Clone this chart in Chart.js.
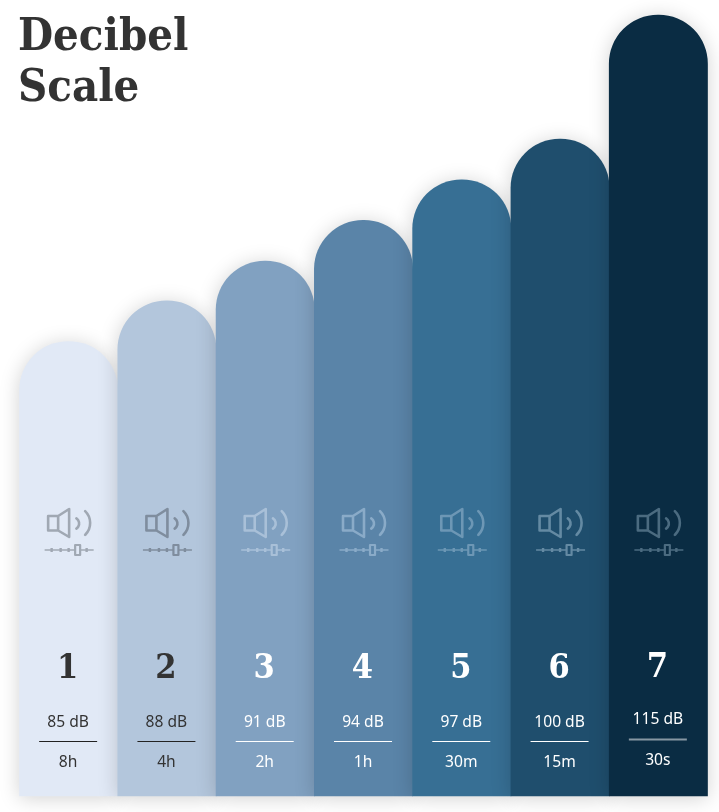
<!DOCTYPE html>
<html>
<head>
<meta charset="utf-8">
<title>Decibel Scale</title>
<script src="https://cdn.jsdelivr.net/npm/chart.js@4/dist/chart.umd.min.js"></script>
<style>
  html, body { margin: 0; padding: 0; background: #fff; }
  #wrap { position: relative; width: 719px; height: 812px; overflow: hidden; }
  canvas { position: absolute; left: 0; top: 0; }
  h1 {
    position: absolute; left: 18px; top: 9px; margin: 0; z-index: 2;
    font: bold 45px/51px "DejaVu Serif Condensed", "DejaVu Serif", serif;
    color: #333;
  }
</style>
</head>
<body>
<div id="wrap">
  <h1>Decibel<br>Scale</h1>
  <canvas id="decibel_chart" width="719" height="812"></canvas>
</div>
<script>
// values
const categories = ['1', '2', '3', '4', '5', '6', '7'];
const barLevels = [58.2, 63.4, 68.5, 73.7, 78.9, 84.1, 100];
const decibels = ['85 dB', '88 dB', '91 dB', '94 dB', '97 dB', '100 dB', '115 dB'];
const durations = ['8h', '4h', '2h', '1h', '30m', '15m', '30s'];

const barColors = ['#e1e9f6', '#b3c6dc', '#81a1c1', '#5a84a8', '#376f94', '#1f4e6d', '#0a2c43'];
const textColors = ['#333333', '#333333', '#ffffff', '#ffffff', '#ffffff', '#ffffff', '#ffffff'];
const ruleColors = ['#222222', '#222222', '#ffffff', '#ffffff', '#ffffff', '#ffffff', '#8797a3'];
const iconColors = ['#a0a8b3', '#7f8d9e', '#a9c0d8', '#8aabc8', '#6d97b5', '#648aa3', '#4b6b80'];

function drawIcon(ctx, cx, color, fill) {
    ctx.save();
    ctx.translate(cx, 0);
    ctx.filter = 'blur(0.3px)';
    ctx.strokeStyle = color;
    ctx.lineWidth = 2.6;
    ctx.lineJoin = 'round';

    // speaker
    ctx.beginPath();
    ctx.rect(-20.5, 516, 10, 14.5);
    ctx.moveTo(-10.5, 516);
    ctx.lineTo(0.5, 509);
    ctx.lineTo(0.5, 537);
    ctx.lineTo(-10.5, 530.5);
    ctx.stroke();

    // sound waves
    ctx.lineCap = 'round';
    ctx.beginPath();
    ctx.arc(4.5, 523.5, 6, -1, 1);
    ctx.stroke();
    ctx.beginPath();
    ctx.arc(5, 523, 16.5, -0.8, 0.8);
    ctx.stroke();

    // slider
    ctx.lineCap = 'butt';
    ctx.lineWidth = 1.7;
    ctx.beginPath();
    ctx.moveTo(-24, 550);
    ctx.lineTo(25, 550);
    ctx.stroke();
    ctx.lineWidth = 2.4;
    ctx.beginPath();
    [-17, -8, 0, 18].forEach((x) => {
        ctx.moveTo(x, 548);
        ctx.lineTo(x, 552);
    });
    ctx.stroke();
    ctx.fillStyle = fill;
    ctx.lineWidth = 2.2;
    ctx.beginPath();
    ctx.rect(6.5, 545, 5, 10);
    ctx.fill();
    ctx.stroke();
    ctx.restore();
}

const barShadow = {
    id: 'barShadow',
    beforeDatasetDraw(chart) {
        const ctx = chart.ctx;
        ctx.save();
        ctx.shadowColor = 'rgba(0, 0, 0, 0.18)';
        ctx.shadowBlur = 20;
        ctx.shadowOffsetX = 0;
        ctx.shadowOffsetY = 2;
    },
    afterDatasetDraw(chart) {
        chart.ctx.restore();
    },
};

const barLabels = {
    id: 'barLabels',
    afterDatasetsDraw(chart) {
        const ctx = chart.ctx;
        const bars = chart.getDatasetMeta(0).data;
        bars.forEach((bar, i) => {
            const last = i === bars.length - 1;
            const shift = last ? -2.5 : 0;
            drawIcon(ctx, bar.x, iconColors[i], barColors[i]);

            ctx.save();
            ctx.textAlign = 'center';
            ctx.textBaseline = 'alphabetic';
            ctx.fillStyle = textColors[i];
            ctx.font = 'bold 34px "DejaVu Serif Condensed", "DejaVu Serif", serif';
            ctx.fillText(categories[i], bar.x - 1, 678 - (last ? 1 : 0));

            ctx.font = '15.6px "Noto Sans", sans-serif';
            ctx.fillText(decibels[i], bar.x - 0.5, 726.5 + shift);
            ctx.fillText(durations[i], bar.x - 0.5, 767 + shift);

            ctx.strokeStyle = ruleColors[i];
            ctx.lineWidth = last ? 2 : 1;
            ctx.beginPath();
            ctx.moveTo(bar.x - 29.5, last ? 739.5 : 741.5);
            ctx.lineTo(bar.x + 28.5, last ? 739.5 : 741.5);
            ctx.stroke();
            ctx.restore();
        });
    },
};

new Chart(document.getElementById('decibel_chart'), {
    type: 'bar',
    data: {
        labels: categories,
        datasets: [{
            label: 'Decibel Scale',
            data: barLevels,
            backgroundColor: barColors,
            borderWidth: 0,
            borderRadius: { topLeft: 49, topRight: 49, bottomLeft: 0, bottomRight: 0 },
            borderSkipped: 'bottom',
            barPercentage: 1,
            categoryPercentage: 1,
            clip: false,
        }],
    },
    options: {
        responsive: false,
        animation: false,
        layout: { padding: { left: 19.5, right: 11.5, top: 15, bottom: 16 } },
        plugins: { legend: { display: false }, tooltip: { enabled: false } },
        scales: {
            x: { display: false },
            y: { display: false, min: 0, max: 100 },
        },
    },
    plugins: [barShadow, barLabels],
});
</script>
</body>
</html>
